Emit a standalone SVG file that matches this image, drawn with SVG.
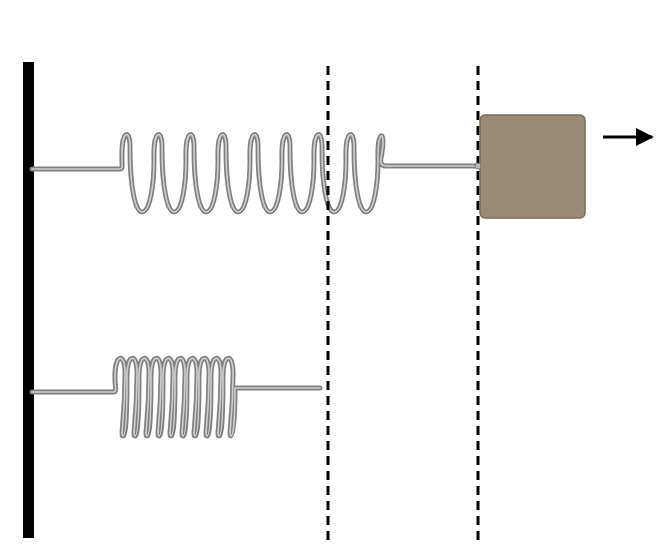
<svg xmlns="http://www.w3.org/2000/svg" width="664" height="544" viewBox="0 0 664 544">
<defs>
<style>
.dash{stroke:#000;stroke-width:3;stroke-dasharray:9 6;fill:none}
.wo{stroke:#808080;stroke-width:5;fill:none;stroke-linecap:round;stroke-linejoin:round}
.wi{stroke:#cfcfcf;stroke-width:1.6;fill:none;stroke-linecap:round;stroke-linejoin:round}
</style>
<marker id="ah" viewBox="0 0 10 10" refX="9" refY="5" markerWidth="6" markerHeight="6" orient="auto" markerUnits="strokeWidth"><path d="M0,0L10,5L0,10z" fill="#000"/></marker>
<path id="s1" d="M32,169 L120,169 C123,169 122,166 122,160 C121,128 131,128 130,150 C130,185 135,212 142,212 C150,212 154,185 154,160 C153,128 163,128 162,150 C162,185 167,212 174,212 C182,212 186,185 186,160 C185,128 195,128 194,150 C194,185 199,212 206,212 C214,212 218,185 218,160 C217,128 227,128 226,150 C226,185 231,212 238,212 C246,212 250,185 250,160 C249,128 259,128 258,150 C258,185 263,212 270,212 C278,212 282,185 282,160 C281,128 291,128 290,150 C290,185 295,212 302,212 C310,212 314,185 314,160 C313,128 323,128 322,150 C322,185 327,212 334,212 C342,212 346,185 346,160 C345,128 355,128 354,150 C354,185 359,212 366,212 C374,212 378,185 378,160 C377,128 387,128 381,158 C380,164 382,166 386,166 L476,166"/>
<path id="s2" d="M32,392 L114,392 C117,392 115,385 115,380 C114,352 126,352 125,375 C125,420 120,436 123,436 C126,436 127,410 127,380 C126,352 138,352 137,375 C137,420 132,436 135,436 C138,436 139,410 139,380 C138,352 150,352 149,375 C149,420 144,436 147,436 C150,436 151,410 151,380 C150,352 162,352 161,375 C161,420 156,436 159,436 C162,436 163,410 163,380 C162,352 174,352 173,375 C173,420 168,436 171,436 C174,436 175,410 175,380 C174,352 186,352 185,375 C185,420 180,436 183,436 C186,436 187,410 187,380 C186,352 198,352 197,375 C197,420 192,436 195,436 C198,436 199,410 199,380 C198,352 210,352 209,375 C209,420 204,436 207,436 C210,436 211,410 211,380 C210,352 222,352 221,375 C221,420 216,436 219,436 C222,436 223,410 223,380 C222,352 234,352 233,375 C233,420 228,436 231,436 C234,436 235,410 235,390 L235,388 L320,388"/>
</defs>
<rect width="664" height="544" fill="#fff"/>
<rect x="23" y="62" width="11" height="476" fill="#000"/>
<g id="springs">
<use href="#s1" class="wo"/><use href="#s1" class="wi"/>
<use href="#s2" class="wo"/><use href="#s2" class="wi"/>
</g>
<g id="guides">
<line class="dash" x1="328" y1="66" x2="328" y2="544"/>
<line class="dash" x1="478" y1="66" x2="478" y2="544"/>
</g>
<g id="block">
<rect x="480" y="115" width="105" height="103" rx="5" fill="#9b8b74" stroke="#7a6c58" stroke-width="1.5"/>
<circle cx="478" cy="166" r="3" fill="#bbb" stroke="#777" stroke-width="1"/>
</g>
<g id="connectors">
<line x1="603" y1="137" x2="652" y2="137" stroke="#000" stroke-width="3" marker-end="url(#ah)"/>
</g>
</svg>
